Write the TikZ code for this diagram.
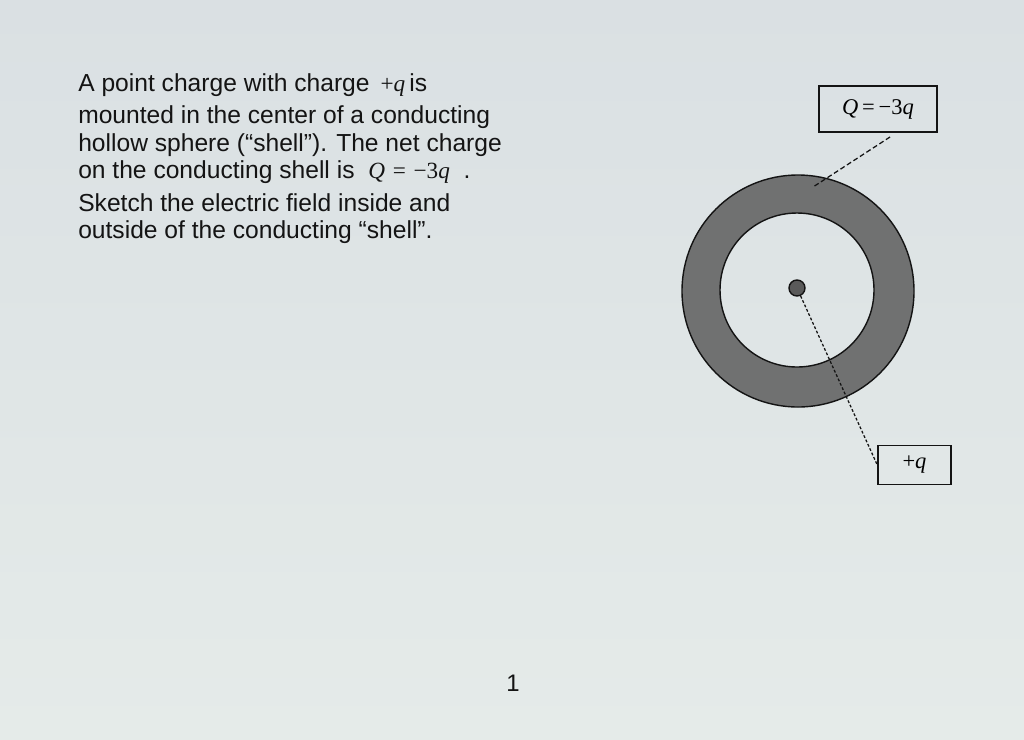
\documentclass[tikz,border=0pt]{standalone}
\usepackage{fontspec}
\setmainfont{Liberation Sans}
\newfontfamily\serifmath{Liberation Serif}
\usetikzlibrary{positioning}
\definecolor{paper}{RGB}{218,224,227}
\definecolor{paperlow}{RGB}{229,235,233}
\definecolor{shellgray}{RGB}{112,113,113}
\definecolor{ink}{RGB}{20,20,20}
\newcommand{\qsym}[1]{{\serifmath\itshape #1}}
\begin{document}
\begin{tikzpicture}[x=0.025cm,y=-0.025cm,
  taskline/.style={anchor=base west,inner sep=0pt,text=ink,font=\fontsize{17.5}{21}\selectfont},
  labelbox/.style={draw=ink,line width=1pt,inner sep=0pt,font=\fontsize{16}{18}\selectfont},
  leader/.style={draw=ink,line width=0.9pt,dash pattern=on 3.5pt off 2pt}]

% \draw [help lines] (0,0) grid (1024,739);
\shade[top color=paper,bottom color=paperlow] (0,0) rectangle (1024,739);

% task text
\node (line1) [taskline] at (78,91)  {A point charge with charge\, {\fontsize{16.5}{18}\selectfont\serifmath+\qsym{q}}\,is};
\node (line2) [taskline] at (78,123) {mounted in the center of a conducting};
\node (line3) [taskline] at (78,151) {hollow sphere (“shell”). The net charge};
\node (line4) [taskline] at (78,178) {on the conducting shell is \ {\fontsize{16.5}{18}\selectfont\serifmath\qsym{Q}\,\,=\,\,−3\qsym{q}}\ \ .};
\node (line5) [taskline] at (78,211) {Sketch the electric field inside and};
\node (line6) [taskline] at (78,238) {outside of the conducting “shell”.};

% conducting shell
\fill[shellgray,even odd rule] (798,291) circle[radius=116] (797,290) circle[radius=77];
\draw[ink,line width=1pt] (798,291) circle[radius=116];
\draw[ink,line width=1pt] (797,290) circle[radius=77];

\node (charge) [circle,draw=ink,fill=shellgray!80!black,line width=1pt,
  minimum size=0.4cm,inner sep=0pt] at (797,288) {};

\node (Qbox) [labelbox,minimum width=2.95cm,minimum height=1.15cm] at (878,109)
  {\serifmath\qsym{Q}\,=\,−3\qsym{q}};
\node (qbox) [labelbox,minimum width=1.825cm,minimum height=0.975cm] at (914.5,465)
  {\serifmath+\qsym{q}};

\coordinate (Qtail) at (890,137);
\coordinate (Qhead) at (813,187);
\draw[leader] (Qtail) -- (Qhead);
\draw[ink,line width=0.9pt,dash pattern=on 2pt off 1.4pt] (charge) -- (qbox.west);

\node (page) [font=\fontsize{17}{20}\selectfont,text=ink] at (513,683) {1};

\end{tikzpicture}
\end{document}
